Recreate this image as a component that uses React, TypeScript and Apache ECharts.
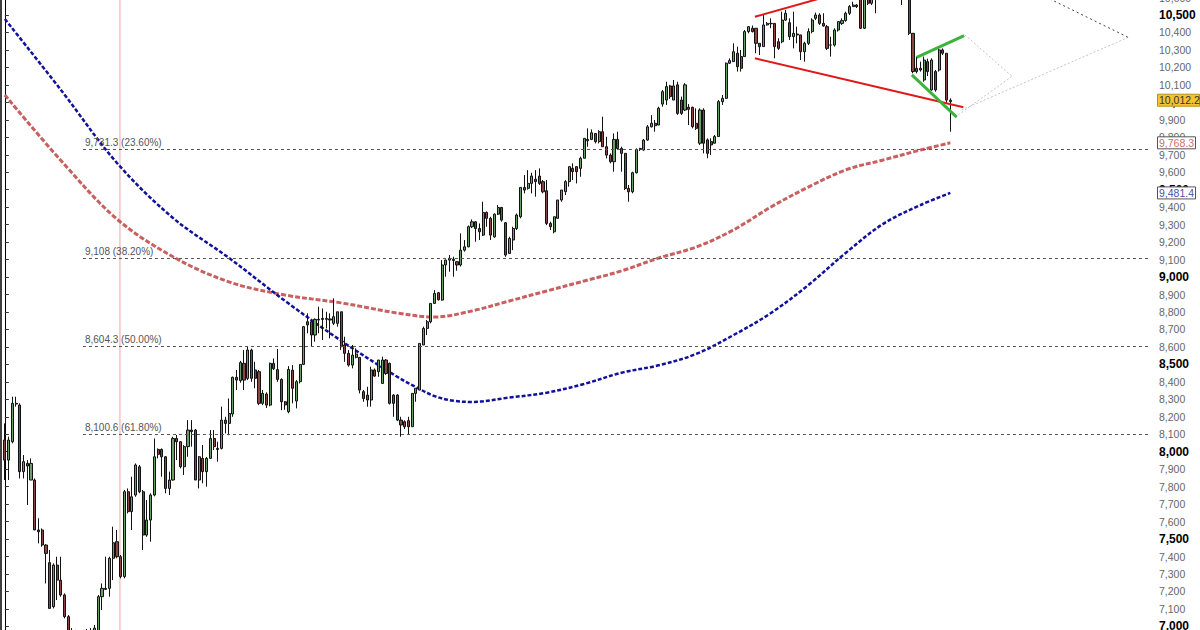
import React, { useEffect, useRef } from "react";
import * as echarts from "echarts";

// [open, high, low, close]
const ohlc: number[][] = [
  [8067, 8162, 7838, 7952], [7952, 8086, 7838, 8067], [8057, 8315, 8048, 8277], [8277, 8315, 8258, 8273],
  [8267, 8277, 7847, 7886], [7886, 7981, 7847, 7943], [7933, 7952, 7695, 7918], [7838, 7962, 7838, 7933],
  [7838, 7847, 7552, 7552], [7552, 7619, 7475, 7542], [7552, 7561, 7456, 7466], [7466, 7470, 7246, 7418],
  [7365, 7437, 7103, 7103], [7113, 7361, 7103, 7351], [7351, 7399, 7151, 7265], [7265, 7399, 7170, 7180],
  [7180, 7189, 7046, 7056], [7056, 7065, 6922, 6960], [6960, 6990, 6860, 6900], [6900, 6980, 6870, 6950],
  [6950, 6970, 6840, 6880], [6880, 6960, 6850, 6940], [6940, 6985, 6880, 6910], [6910, 6990, 6890, 6960],
  [6950, 7008, 6930, 6990], [6975, 7180, 6960, 7170], [7170, 7246, 7094, 7218], [7218, 7399, 7208, 7212],
  [7218, 7399, 7170, 7390], [7390, 7571, 7265, 7479], [7485, 7552, 7390, 7399], [7399, 7409, 7275, 7285],
  [7285, 7781, 7275, 7771], [7771, 7790, 7647, 7657], [7657, 7857, 7552, 7742], [7752, 7933, 7742, 7924],
  [7914, 7924, 7762, 7771], [7771, 7781, 7437, 7523], [7523, 7723, 7513, 7609], [7609, 7762, 7485, 7752],
  [7752, 8076, 7745, 7971], [8013, 8019, 7962, 7985], [8013, 8019, 7857, 7971], [7971, 7975, 7762, 7790],
  [7790, 7886, 7752, 7838], [7838, 8086, 7835, 8076], [8076, 8096, 7952, 8057], [8057, 8060, 7905, 7914],
  [7914, 8038, 7867, 8029], [8029, 8181, 7971, 8124], [8124, 8181, 8029, 8115], [8124, 8130, 7838, 7838],
  [7838, 7975, 7790, 7971], [7962, 8038, 7819, 7886], [7886, 7970, 7800, 7962], [7962, 8124, 7958, 8076],
  [8076, 8124, 8010, 8029], [8019, 8057, 7943, 8013], [8019, 8258, 8013, 8181], [8181, 8200, 8105, 8162],
  [8162, 8305, 8095, 8219], [8216, 8430, 8200, 8426], [8426, 8468, 8353, 8410], [8407, 8520, 8395, 8510],
  [8506, 8582, 8353, 8410], [8420, 8600, 8410, 8582], [8582, 8590, 8400, 8420], [8468, 8515, 8363, 8420],
  [8458, 8468, 8267, 8277], [8277, 8353, 8267, 8334], [8330, 8340, 8250, 8267], [8267, 8510, 8260, 8506],
  [8506, 8534, 8468, 8475], [8470, 8588, 8400, 8414], [8414, 8420, 8238, 8286], [8286, 8290, 8240, 8268],
  [8229, 8490, 8220, 8471], [8467, 8496, 8277, 8363], [8290, 8410, 8248, 8401], [8401, 8500, 8391, 8500],
  [8500, 8720, 8496, 8716], [8744, 8792, 8678, 8726], [8744, 8754, 8601, 8668], [8668, 8763, 8630, 8758],
  [8758, 8830, 8678, 8754], [8757, 8820, 8640, 8763], [8763, 8801, 8706, 8758], [8760, 8792, 8649, 8754],
  [8735, 8878, 8725, 8773], [8735, 8801, 8716, 8801], [8801, 8801, 8582, 8601], [8611, 8658, 8515, 8563],
  [8563, 8582, 8487, 8496], [8496, 8611, 8477, 8553], [8540, 8592, 8534, 8559], [8540, 8540, 8334, 8353],
  [8344, 8353, 8286, 8305], [8324, 8372, 8258, 8296], [8296, 8487, 8258, 8468], [8468, 8477, 8429, 8433],
  [8458, 8525, 8429, 8525], [8391, 8544, 8391, 8525], [8525, 8530, 8440, 8448], [8506, 8510, 8270, 8277],
  [8324, 8330, 8200, 8277], [8324, 8330, 8175, 8181], [8181, 8200, 8086, 8153], [8172, 8180, 8130, 8143],
  [8178, 8200, 8096, 8143], [8143, 8334, 8143, 8334], [8334, 8363, 8286, 8363], [8353, 8620, 8353, 8620],
  [8611, 8716, 8611, 8706], [8706, 8754, 8668, 8744], [8744, 8849, 8735, 8849], [8849, 8925, 8849, 8906],
  [8910, 8915, 8865, 8870], [8868, 9097, 8865, 9069], [9069, 9100, 9002, 9097], [9097, 9126, 9030, 9107],
  [9102, 9116, 9002, 9095], [9088, 9090, 9036, 9069], [9069, 9250, 9060, 9154], [9154, 9212, 9145, 9173],
  [9173, 9295, 9170, 9288], [9288, 9330, 9280, 9316], [9316, 9320, 9202, 9278], [9278, 9307, 9212, 9259],
  [9240, 9431, 9235, 9370], [9370, 9375, 9288, 9336], [9336, 9345, 9212, 9240], [9230, 9364, 9225, 9360],
  [9360, 9412, 9355, 9398], [9398, 9402, 9317, 9326], [9311, 9315, 9116, 9126], [9135, 9231, 9135, 9221],
  [9212, 9288, 9154, 9278], [9278, 9364, 9269, 9355], [9345, 9513, 9336, 9513], [9513, 9584, 9479, 9498],
  [9508, 9612, 9500, 9536], [9536, 9597, 9479, 9578], [9560, 9612, 9460, 9546], [9578, 9622, 9527, 9536],
  [9546, 9555, 9479, 9488], [9494, 9555, 9297, 9307], [9307, 9317, 9269, 9288], [9259, 9345, 9250, 9345],
  [9336, 9441, 9336, 9441], [9441, 9498, 9431, 9498], [9489, 9555, 9469, 9546], [9546, 9632, 9517, 9632],
  [9622, 9651, 9555, 9603], [9632, 9632, 9536, 9603], [9622, 9689, 9574, 9680], [9680, 9794, 9680, 9794],
  [9788, 9851, 9746, 9780], [9788, 9845, 9784, 9826], [9822, 9822, 9765, 9775], [9775, 9841, 9765, 9832],
  [9832, 9918, 9746, 9746], [9746, 9803, 9679, 9698], [9698, 9708, 9651, 9660], [9660, 9822, 9603, 9788],
  [9788, 9832, 9727, 9736], [9736, 9746, 9603, 9708], [9708, 9708, 9498, 9507], [9507, 9527, 9431, 9488],
  [9488, 9603, 9479, 9597], [9597, 9736, 9593, 9731], [9731, 9740, 9722, 9736], [9727, 9790, 9723, 9784],
  [9784, 9870, 9780, 9860], [9860, 9927, 9856, 9880], [9880, 9899, 9832, 9866], [9870, 9975, 9870, 9966],
  [9990, 10071, 9975, 10061], [10013, 10118, 9985, 10090], [10094, 10100, 10020, 10033], [10013, 10128, 10013, 10094],
  [10100, 10118, 9928, 9937], [10013, 10033, 9928, 9937], [9956, 10110, 9950, 10100], [9972, 9990, 9870, 9960],
  [9972, 9975, 9851, 9861], [9880, 9966, 9842, 9851], [9766, 9966, 9756, 9956], [9956, 9966, 9708, 9766],
  [9785, 9794, 9680, 9708], [9775, 9794, 9699, 9756], [9766, 9813, 9765, 9804], [9804, 10013, 9804, 10004],
  [10004, 10042, 9985, 10023], [10023, 10228, 10020, 10224], [10224, 10252, 10220, 10239], [10233, 10338, 10233, 10290],
  [10281, 10319, 10176, 10204], [10262, 10300, 10176, 10195], [10262, 10414, 10262, 10405], [10405, 10437, 10395, 10433],
  [10424, 10440, 10400, 10405], [10424, 10424, 10281, 10338], [10338, 10338, 10271, 10319], [10319, 10500, 10319, 10443],
  [10443, 10460, 10440, 10452], [10452, 10481, 10424, 10450], [10452, 10452, 10252, 10319], [10347, 10367, 10300, 10309],
  [10347, 10519, 10338, 10471], [10471, 10529, 10466, 10510], [10456, 10481, 10357, 10376], [10376, 10519, 10309, 10395],
  [10391, 10433, 10338, 10386], [10386, 10386, 10242, 10290], [10290, 10347, 10233, 10338], [10338, 10424, 10328, 10405],
  [10405, 10481, 10395, 10471], [10481, 10514, 10471, 10500], [10500, 10510, 10443, 10452], [10452, 10510, 10433, 10437],
  [10433, 10443, 10300, 10309], [10328, 10376, 10262, 10328], [10328, 10424, 10319, 10414], [10414, 10462, 10405, 10462],
  [10452, 10481, 10443, 10468], [10468, 10519, 10462, 10510], [10510, 10557, 10500, 10548], [10548, 10576, 10548, 10557],
  [10557, 10562, 10540, 10548], [10600, 10620, 10420, 10424], [10424, 10620, 10420, 10600], [10600, 10650, 10557, 10567],
  [10567, 10620, 10557, 10595], [10610, 10650, 10510, 10620], [10620, 10670, 10586, 10650], [10650, 10700, 10620, 10680],
  [10680, 10710, 10630, 10660], [10660, 10720, 10640, 10700], [10700, 10730, 10660, 10690], [10690, 10700, 10600, 10640],
  [10640, 10660, 10557, 10620], [10620, 10660, 10590, 10640], [10620, 10640, 10385, 10395], [10395, 10395, 10166, 10176],
  [10195, 10262, 10166, 10176], [10195, 10233, 10176, 10185], [10128, 10262, 10118, 10242], [10233, 10250, 10150, 10176],
  [10071, 10252, 10067, 10242], [10176, 10185, 10061, 10071], [10185, 10309, 10176, 10300], [10300, 10309, 10271, 10281],
  [10281, 10281, 9994, 10013], [10004, 10023, 9832, 10012.2],
];

const slotCount = 308; // candles plus empty space to the right
const categories = Array.from({ length: slotCount }, (_, i) => String(i + 1));

// moving averages read at candle indices
const maLongIndex = [0, 15, 30, 45, 60, 75, 90, 105, 110, 115, 120, 125, 135, 145, 155, 165, 175, 185, 195, 205, 215, 225, 235, 245, 253];
const maLong = [10477, 10071, 9653, 9338, 9109, 8863, 8635, 8429, 8370, 8318, 8292, 8285, 8310, 8338, 8388, 8452, 8495, 8560, 8668, 8794, 8954, 9138, 9304, 9412, 9481.4];
const maShortIndex = [0, 15, 30, 45, 60, 75, 90, 105, 115, 125, 135, 145, 155, 165, 175, 185, 195, 205, 215, 225, 235, 245, 253];
const maShort = [10042, 9667, 9332, 9116, 8972, 8897, 8852, 8794, 8771, 8806, 8863, 8920, 8977, 9035, 9109, 9172, 9270, 9401, 9515, 9613, 9670, 9727, 9768.3];

// fibonacci retracement levels
const fibLevels = [9731.3, 9108, 8604.3, 8100.6];
const fibTexts = ["9,731.3 (23.60%)", "9,108 (38.20%)", "8,604.3 (50.00%)", "8,100.6 (61.80%)"];
const fibRange = [20.9, 306.4];

// trend lines [[index, price], [index, price]]
const redLines = [
  [[200.7, 10490], [222, 10618]],
  [[200.7, 10252], [256.5, 9972]],
];
const greenLines = [
  [[244, 10258], [256.7, 10382]],
  [[242.7, 10157], [254.7, 9915]],
];
const grayLines = [
  [[256.9, 10386], [269.4, 10151]],
  [[255.1, 9928], [269.4, 10147]],
  [[256, 9956], [300.6, 10372]],
];
const darkDotted = [[276, 10630], [300.6, 10372]];
const markerIndex = 30.8;

const lastPrice = 10012.2;
const lastLong = 9481.4;
const lastShort = 9768.3;

const yMin = 6900;
const yMax = 10600;

const fmt = (v: number, d = 0) =>
  v.toLocaleString("en-US", { minimumFractionDigits: d, maximumFractionDigits: d });

const FONT = "'Liberation Sans', Arial, sans-serif";

export default function App() {
  const ref = useRef<HTMLDivElement>(null);
  useEffect(() => {
    const chart = echarts.init(ref.current!, null, { renderer: "svg" });
    const lineSeries = (data: number[][], color: string, width: number, type: any, z = 3, smooth: any = false) => ({
      type: "line",
      xAxisIndex: 1,
      yAxisIndex: 0,
      data,
      showSymbol: false,
      symbol: "none",
      silent: true,
      smooth,
      z,
      lineStyle: { color, width, type },
    });
    const option: any = {
      animation: false,
      backgroundColor: "#ffffff",
      grid: {
        left: 3,
        right: 46,
        top: -2.47,
        bottom: -13.88,
        containLabel: false,
        outerBoundsMode: "none",
      },
      xAxis: [
        { type: "category", data: categories, show: false, boundaryGap: true },
        { type: "value", min: -0.5, max: slotCount - 0.5, show: false },
      ],
      yAxis: [
        {
          type: "value",
          position: "right",
          min: yMin,
          max: yMax,
          interval: 100,
          splitLine: { show: false },
          axisLine: { show: true, lineStyle: { color: "#000", width: 1 } },
          axisTick: { show: true, length: 4, lineStyle: { color: "#333" } },
          axisLabel: {
            margin: 5,
            showMinLabel: true,
            showMaxLabel: true,
            hideOverlap: false,
            formatter: (v: number) => (v % 500 === 0 ? `{b|${fmt(v)}}` : `{n|${fmt(v)}}`),
            rich: {
              b: { fontFamily: FONT, fontSize: 12, fontWeight: "bold", color: "#000" },
              n: { fontFamily: FONT, fontSize: 10.5, color: "#666" },
            },
          },
        },
      ],
      series: [
        {
          type: "line",
          xAxisIndex: 1,
          yAxisIndex: 0,
          data: [],
          silent: true,
          markLine: {
            silent: true,
            symbol: ["none", "none"],
            lineStyle: { color: "#555", type: [3, 3], width: 1 },
            label: {
              show: true,
              position: "insideStartTop",
              formatter: "{b}",
              color: "#555",
              fontSize: 10,
              fontFamily: FONT,
              distance: 2,
            },
            data: fibLevels.map((v, k) => [
              { coord: [fibRange[0], v], name: fibTexts[k] },
              { coord: [fibRange[1], v] },
            ]),
          },
        },
        lineSeries([[markerIndex, yMin], [markerIndex, yMax]], "#e8a8a8", 1, "solid", 1),
        lineSeries(maShortIndex.map((x, k) => [x, maShort[k]]), "#c86060", 3, [5, 2], 3, 0.35),
        lineSeries(maLongIndex.map((x, k) => [x, maLong[k]]), "#10109a", 2.5, [4, 2], 3, 0.35),
        {
          type: "candlestick",
          xAxisIndex: 0,
          yAxisIndex: 0,
          barWidth: 2.6,
          z: 4,
          data: ohlc.map(([o, h, l, c]) => [o, c, l, h]),
          itemStyle: {
            color: "#6a9f6a",
            color0: "#8c4545",
            borderColor: "#111",
            borderColor0: "#111",
            borderWidth: 1,
          },
        },
        ...redLines.map((d) => lineSeries(d, "#e01818", 2, "solid", 5)),
        ...greenLines.map((d) => lineSeries(d, "#3cb43c", 3, "solid", 5)),
        ...grayLines.map((d) => lineSeries(d, "#c4c4c4", 1, [2, 2], 5)),
        lineSeries(darkDotted, "#444", 1, [2, 3], 5),
      ],
    };
    chart.setOption(option);

    const yPix = (v: number) => chart.convertToPixel({ yAxisIndex: 0 }, v) as number;
    const box = (v: number, text: string, fill: string, stroke: string, color: string, w: number) => {
      const y = yPix(v);
      return [
        {
          type: "rect",
          z: 200,
          shape: { x: 1157.5, y: y - 6, width: w, height: 12 },
          style: { fill, stroke, lineWidth: 1 },
        },
        {
          type: "text",
          z: 201,
          x: 1159,
          y,
          style: { text, fill: color, font: `10.5px ${FONT}`, verticalAlign: "middle", align: "left" },
        },
      ];
    };
    chart.setOption({
      graphic: [
        { type: "line", z: 200, shape: { x1: 1, y1: 0, x2: 1, y2: 630 }, style: { stroke: "#000", lineWidth: 1.5 } },
        ...box(lastPrice, fmt(lastPrice, 1), "#f5c232", "#b8901a", "#333", 42),
        ...box(lastShort, fmt(lastShort, 1), "#ffffff", "#555", "#c87070", 38),
        ...box(lastLong, fmt(lastLong, 1), "#ffffff", "#555", "#5050a0", 38),
      ],
    });
    return () => chart.dispose();
  }, []);
  return (
    <div
      ref={ref}
      style={{ position: "fixed", left: 0, top: 0, width: 1200, height: 630, background: "#fff" }}
    />
  );
}
